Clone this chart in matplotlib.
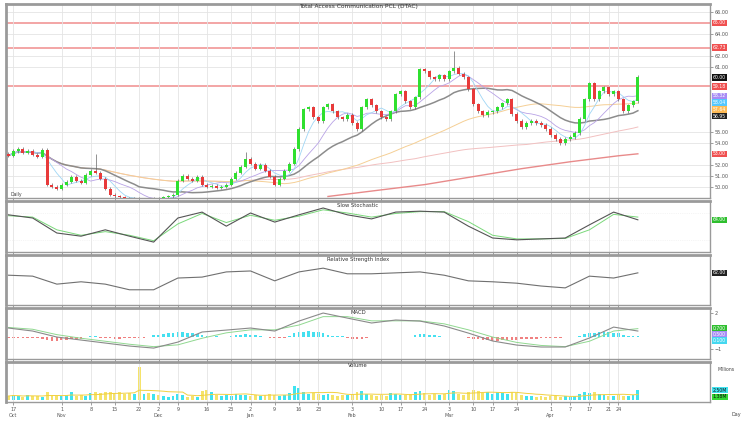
import numpy as np
import pandas as pd
import matplotlib
matplotlib.use('Agg')
import matplotlib.pyplot as plt

# Datos (precio diario, indicadores, volumen)
title = 'Total Access Communication PCL (DTAC)'

closes = [52.82, 53.27, 53.45, 53.09, 53.27, 52.91, 52.73, 53.36, 50.18, 50.00,
          49.82, 50.18, 50.45, 50.91, 50.55, 50.36, 51.09, 51.45, 51.27, 50.73,
          49.82, 49.27, 49.09, 49.00, 48.91, 48.82, 48.91, 48.73, 48.82, 48.73,
          48.91, 48.82, 49.00, 49.09, 49.27, 50.55, 51.00, 50.73, 50.55, 50.91,
          50.18, 50.00, 50.09, 49.91, 50.00, 50.18, 50.73, 51.27, 51.82, 52.55,
          52.09, 51.64, 52.00, 51.45, 50.91, 50.18, 50.73, 51.45, 52.09, 53.45,
          55.27, 57.09, 57.27, 56.36, 56.00, 57.27, 57.55, 56.91, 56.36, 56.18,
          56.55, 55.82, 55.27, 57.27, 58.00, 57.45, 56.91, 56.36, 56.18, 56.91,
          58.45, 58.73, 57.82, 57.27, 58.18, 60.73, 60.55, 60.00, 59.82, 60.18,
          59.82, 60.55, 60.91, 60.36, 60.00, 58.91, 57.55, 56.91, 56.55, 56.82,
          56.91, 57.27, 57.64, 58.00, 56.64, 56.00, 55.45, 55.82, 56.00, 55.82,
          55.64, 55.27, 54.73, 54.36, 54.00, 54.36, 54.55, 54.91, 56.18, 58.00,
          59.45, 58.00, 58.73, 59.09, 58.45, 58.73, 58.00, 56.91, 57.45, 57.82,
          60.00]
first_open = 53.0
spike_highs = {18: 53.0, 49: 53.2, 92: 62.4, 130: 60.2}

resist_levels = [65.0, 62.73, 59.18]

ma200_idx = [66, 76, 86, 96, 106, 116, 126, 130]
ma200_val = [49.09, 49.64, 50.18, 50.91, 51.64, 52.27, 52.82, 53.00]

ind_idx = list(range(0, 131, 5))
stoch_k = [75, 68, 35, 28, 42, 28, 15, 68, 81, 50, 79, 59, 75, 90,
           75, 66, 81, 83, 81, 50, 24, 20, 22, 24, 53, 81, 64]
stoch_d = [73, 70, 42, 30, 38, 30, 18, 55, 78, 58, 74, 63, 72, 86,
           79, 70, 78, 82, 82, 60, 30, 22, 22, 23, 42, 76, 70]
rsi = [57, 55, 38, 43, 38, 26, 26, 51, 53, 64, 66, 45, 64, 72,
       60, 60, 62, 64, 57, 45, 43, 40, 34, 30, 55, 51, 62]
macd = [0.75, 0.5, 0.0, -0.25, -0.5, -0.75, -0.92, -0.42, 0.42, 0.58, 0.75, 0.5, 1.33, 2.0,
        1.58, 1.17, 1.42, 1.33, 0.92, 0.33, -0.33, -0.67, -0.83, -0.83, -0.08, 0.83, 0.5]
macd_signal = [0.8, 0.65, 0.2, -0.1, -0.35, -0.6, -0.8, -0.65, -0.1, 0.35, 0.6, 0.6, 1.0, 1.7,
               1.7, 1.35, 1.35, 1.35, 1.1, 0.6, 0.0, -0.45, -0.7, -0.8, -0.35, 0.5, 0.7]
macd_hist = [-0.05, -0.05, -0.05, -0.05, -0.05, -0.05, -0.05, -0.2, -0.25, -0.3,
             -0.3, -0.28, -0.25, -0.2, -0.2, -0.15, 0.0, 0.1, 0.12, -0.05,
             -0.1, -0.12, -0.15, -0.15, -0.12, -0.12, -0.1, -0.1, -0.08, 0.0,
             0.15, 0.2, 0.25, 0.3, 0.35, 0.4, 0.38, 0.35, 0.3, 0.25,
             0.2, 0.05, 0.04, 0.05, 0.03, 0.04, 0.05, 0.15, 0.2, 0.22,
             0.2, 0.15, 0.05, -0.03, -0.1, -0.12, -0.1, -0.05, 0.1, 0.3,
             0.4, 0.45, 0.5, 0.45, 0.4, 0.3, 0.15, 0.1, 0.08, 0.05,
             -0.1, -0.15, -0.18, -0.15, -0.1, 0.0, 0.03, -0.03, 0.02, 0.03,
             0.04, 0.02, -0.02, 0.02, 0.15, 0.22, 0.25, 0.2, 0.15, 0.05,
             0.03, 0.04, 0.02, 0.0, -0.03, -0.1, -0.15, -0.2, -0.25, -0.28,
             -0.3, -0.3, -0.28, -0.25, -0.25, -0.22, -0.2, -0.18, -0.15, -0.15,
             -0.12, -0.1, -0.1, -0.08, -0.05, -0.03, 0.0, 0.03, 0.1, 0.25,
             0.3, 0.35, 0.38, 0.4, 0.38, 0.35, 0.3, 0.15, 0.08, 0.05,
             0.1]
volume = [1.0, 1.25, 1.0, 0.75, 1.25, 1.0, 1.0, 0.75, 2.0, 1.25,
          1.0, 1.0, 1.25, 2.0, 1.0, 1.25, 1.0, 1.75, 2.0, 1.75,
          2.0, 2.0, 1.75, 2.0, 1.5, 1.75, 1.5, 8.25, 1.5, 1.75,
          1.5, 1.25, 1.0, 0.75, 1.0, 1.5, 1.25, 0.75, 1.0, 0.75,
          2.25, 2.5, 2.0, 1.25, 1.0, 1.25, 1.0, 1.5, 1.25, 1.25,
          1.0, 1.25, 1.0, 1.25, 1.5, 1.25, 1.0, 1.25, 1.75, 3.5,
          3.0, 2.0, 1.5, 1.75, 1.5, 1.25, 1.5, 1.25, 1.0, 1.25,
          1.25, 1.5, 2.0, 2.25, 1.5, 1.25, 1.0, 1.25, 1.0, 1.75,
          1.5, 1.25, 1.25, 1.5, 2.0, 2.25, 1.75, 1.25, 1.5, 1.25,
          1.5, 2.5, 2.25, 1.5, 1.25, 2.0, 2.5, 2.25, 1.75, 2.0,
          1.5, 2.0, 1.75, 1.5, 2.0, 1.75, 1.25, 1.0, 1.0, 0.75,
          1.0, 0.75, 1.0, 1.0, 0.75, 1.0, 0.75, 1.0, 1.5, 2.0,
          1.75, 2.0, 1.5, 1.25, 1.0, 1.0, 1.25, 1.0, 1.0, 1.25,
          2.5]

tick_pos = [1, 11, 17, 22, 27, 31, 35, 41, 46, 50, 55, 60, 64, 71, 77, 81, 86,
            91, 96, 100, 105, 112, 116, 120, 124, 126]
tick_lab = ['17\nOct', '1\nNov', '8', '15', '22', '2\nDec', '9', '16', '23',
            '2\nJan', '9', '16', '23', '3\nFeb', '10', '17', '24', '3\nMar',
            '10', '17', '24', '1\nApr', '7', '17', '21', '24']

# Calculos
c = np.array(closes)
o = np.r_[first_open, c[:-1]]
hi = np.maximum(o, c) + 0.15
lo = np.minimum(o, c) - 0.15
for k, v in spike_highs.items():
    hi[k] = v
x = np.arange(len(c))
up = c >= o
s = pd.Series(c)
ma5 = s.rolling(5, min_periods=1).mean()
ma10 = s.rolling(10, min_periods=1).mean()
ma20 = s.rolling(20, min_periods=1).mean()
ma50 = s.rolling(50, min_periods=1).mean()
ma100 = s.rolling(100, min_periods=1).mean()
vol_ma = pd.Series(volume).rolling(10, min_periods=1).mean()

W, H = 750, 422
fig = plt.figure(figsize=(7.5, 4.22), dpi=100)
fig.patch.set_facecolor('white')


def make_ax(top, bottom, share=None):
    ax = fig.add_axes([6 / W, 1 - bottom / H, 704 / W, (bottom - top) / H], sharex=share)
    ax.set_facecolor('white')
    for sp in ax.spines.values():
        sp.set_color('#9a9a9a')
        sp.set_linewidth(1.0)
    ax.spines['top'].set_linewidth(2.0)
    ax.spines['left'].set_linewidth(2.0)
    ax.yaxis.tick_right()
    ax.tick_params(axis='both', labelsize=3.5, length=2, width=0.4, colors='#555555', pad=1.5)
    ax.set_xticks(tick_pos)
    ax.grid(True, axis='x', color='#e4e4e4', lw=0.6)
    return ax


def tags(ax, items, step):
    """Etiquetas de valor apiladas en la columna derecha, sin solaparse."""
    items = sorted(items, key=lambda t: -t[0])
    last = None
    placed = []
    for val, text, fc, tc in items:
        y = val if last is None else min(val, last - step)
        ax.text(1.004, y, text, transform=ax.get_yaxis_transform(), fontsize=3.3,
                color=tc, va='center', ha='left',
                bbox=dict(boxstyle='square,pad=0.15', fc=fc, ec='none'))
        placed.append(y)
        last = y
    return placed


ax1 = make_ax(4, 198)
ax2 = make_ax(201, 252, ax1)
ax3 = make_ax(255, 305, ax1)
ax4 = make_ax(308, 359, ax1)
ax5 = make_ax(362, 402, ax1)

# Panel de precio
ax1.set_ylim(48.95, 66.73)
ax1.set_xlim(-0.5, 144.9)
ax1.grid(True, axis='y', color='#e4e4e4', lw=0.6)
for lvl in resist_levels:
    ax1.axhline(lvl, color='#f3a5a5', lw=1.4, zorder=1)
ax1.plot(x, ma100, color='#f2c0c0', lw=0.7, zorder=2)
ax1.plot(x, ma50, color='#f5cf95', lw=0.7, zorder=2)
ax1.plot(x, ma20, color='#8c8c8c', lw=1.1, zorder=2)
ax1.plot(x, ma10, color='#b8a2e6', lw=0.6, zorder=2)
ax1.plot(x, ma5, color='#9fd6f5', lw=0.6, zorder=2)
ax1.plot(ma200_idx, ma200_val, color='#e88a8a', lw=1.0, zorder=2)
ax1.vlines(x, lo, hi, color='#666666', lw=0.5, zorder=3)
ax1.bar(x, np.maximum(np.abs(c - o), 0.08), bottom=np.minimum(o, c), width=0.62,
        color=np.where(up, '#2fe02f', '#e83a3a'), edgecolor='none', zorder=4)
ax1.text(0.5, 0.998, title, transform=ax1.transAxes, ha='center', va='top',
         fontsize=4.2, color='#333333')
ax1.text(0.006, 0.01, 'Daily', transform=ax1.transAxes, fontsize=3.3, color='#444444')

price_tags = [(lvl, '%.2f' % lvl, '#f05050', 'white') for lvl in resist_levels]
price_tags += [(c[-1], '%.2f' % c[-1], '#111111', 'white'),
               (ma5.iloc[-1], '%.2f' % ma5.iloc[-1], '#55c8ff', 'white'),
               (ma10.iloc[-1], '%.2f' % ma10.iloc[-1], '#a78bf5', 'white'),
               (ma20.iloc[-1], '%.2f' % ma20.iloc[-1], '#222222', 'white'),
               (ma50.iloc[-1], '%.2f' % ma50.iloc[-1], '#ffbb55', 'white'),
               (ma200_val[-1], '%.2f' % ma200_val[-1], '#f05050', 'white')]
placed = tags(ax1, price_tags, 0.62)
yt = [v for v in np.arange(50, 67, 1) if min(abs(v - p) for p in placed) > 0.6]
ax1.set_yticks(yt)
ax1.yaxis.set_major_formatter(plt.FormatStrFormatter('%.2f'))
ax1.set_ylim(48.95, 66.73)

# Estocastico
ax2.set_ylim(-6.8, 105.4)
ax2.set_yticks([])
ax2.axhline(80, color='#ececec', lw=0.5, ls=':')
ax2.axhline(20, color='#ececec', lw=0.5, ls=':')
ax2.plot(ind_idx, stoch_d, color='#7ad87a', lw=0.7)
ax2.plot(ind_idx, stoch_k, color='#555555', lw=0.8)
ax2.text(0.5, 0.97, 'Slow Stochastic', transform=ax2.transAxes, ha='center', va='top',
         fontsize=3.8, color='#333333')
tags(ax2, [(stoch_k[-1], '%.2f' % stoch_k[-1], '#2fbf2f', 'white')], 10)

# RSI
ax3.set_ylim(-6.4, 100)
ax3.set_yticks([])
ax3.plot(ind_idx, rsi, color='#707070', lw=0.8)
ax3.text(0.5, 0.97, 'Relative Strength Index', transform=ax3.transAxes, ha='center',
         va='top', fontsize=3.8, color='#333333')
tags(ax3, [(rsi[-1], '%.2f' % rsi[-1], '#222222', 'white')], 10)

# MACD
ax4.set_ylim(-1.83, 2.42)
ax4.set_yticks([-1, 2])
ax4.bar(x, macd_hist, width=0.55,
        color=np.where(np.array(macd_hist) >= 0, '#45e0f0', '#f08080'), edgecolor='none')
ax4.plot(ind_idx, macd_signal, color='#90d890', lw=0.7)
ax4.plot(ind_idx, macd, color='#8a8a8a', lw=0.8)
ax4.text(0.5, 0.97, 'MACD', transform=ax4.transAxes, ha='center', va='top',
         fontsize=3.8, color='#333333')
tags(ax4, [(macd_signal[-1], '%.3f' % macd_signal[-1], '#2fbf2f', 'white'),
           (macd[-1], '%.3f' % macd[-1], '#a78bf5', 'white'),
           (macd_hist[-1], '%.3f' % macd_hist[-1], '#45d8f0', 'white')], 0.5)

# Volumen
ax5.set_ylim(-0.5, 9.5)
ax5.set_yticks([])
ax5.bar(x, volume, width=0.6, color=np.where(up, '#3fe3f0', '#f5e36a'), edgecolor='none')
ax5.plot(x, vol_ma, color='#f2d040', lw=0.7)
ax5.text(0.5, 0.97, 'Volume', transform=ax5.transAxes, ha='center', va='top',
         fontsize=3.8, color='#333333')
tags(ax5, [(volume[-1], '%.2fM' % volume[-1], '#3fe3f0', '#111111'),
           (vol_ma.iloc[-1], '%.2fM' % vol_ma.iloc[-1], '#33d633', '#111111')], 1.7)
ax5.text(1.01, 0.78, 'Millions', transform=ax5.transAxes, fontsize=3.3, color='#444444')
ax5.set_xticklabels(tick_lab)
for ax in (ax1, ax2, ax3, ax4):
    plt.setp(ax.get_xticklabels(), visible=False)
fig.text(736 / W, 6 / H, 'Day', fontsize=3.5, color='#444444', ha='center')

fig.savefig('out.png', dpi=100)
